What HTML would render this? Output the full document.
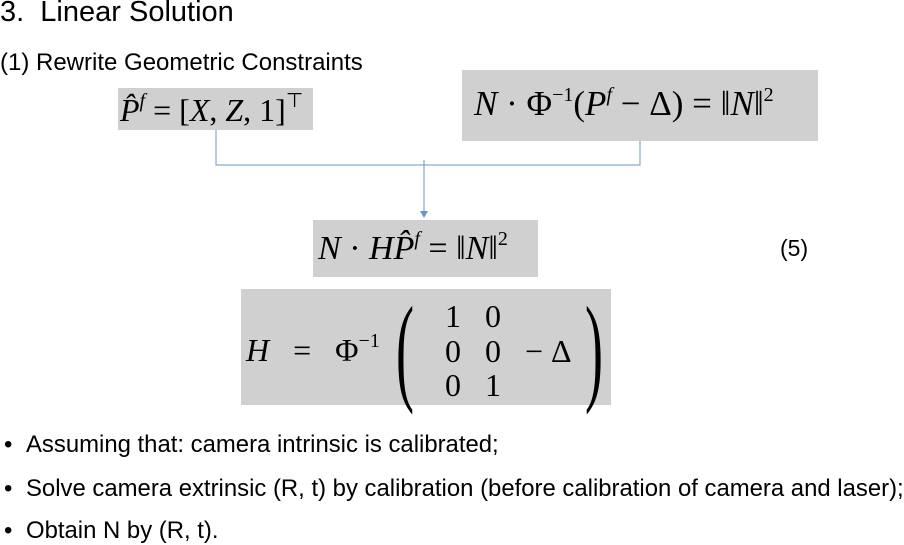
<!DOCTYPE html>
<html><head><meta charset="utf-8"><style>
body{margin:0;width:904px;height:545px;background:#fff;position:relative;overflow:hidden;font-family:"Liberation Sans",sans-serif;color:#000}
.a{position:absolute;white-space:nowrap}
.box{position:absolute;background:#d0d0d0}
.m{font-family:"Liberation Serif",serif;font-size:32px}
i{font-style:italic}
sup{font-size:20px;vertical-align:14px}
.t{font-size:23.9px}
</style></head><body>
<div class="a" style="left:0;top:-4px;font-size:29px">3.&nbsp;&nbsp;Linear Solution</div>
<div class="a" style="left:0;top:49px;font-size:24px">(1) Rewrite Geometric Constraints</div>

<div class="box" style="left:118px;top:88px;width:195px;height:42px"></div>
<div class="a m" style="left:120px;top:88px"><i>P̂</i><sup><i>f</i></sup> = [<i>X</i>, <i>Z</i>, 1]<sup>⊤</sup></div>

<div class="box" style="left:462px;top:70px;width:356px;height:71px"></div>
<div class="a m" style="left:474px;top:84px;font-size:35px"><i>N</i> · Φ<sup>−1</sup>(<i>P</i><sup><i>f</i></sup> − Δ) = ‖<i>N</i>‖<sup>2</sup></div>

<svg class="a" style="left:0;top:0" width="904" height="545">
<path d="M216 130V165H640V141M424 160V212" stroke="#6a95c8" stroke-width="1" fill="none"/>
<path d="M420 211L428 211L424 218Z" fill="#6a95c8"/>
</svg>

<div class="box" style="left:313px;top:220px;width:225px;height:57px"></div>
<div class="a m" style="left:318px;top:228px;font-size:34px"><i>N</i> · <i>H</i><i>P̂</i><sup><i>f</i></sup> = ‖<i>N</i>‖<sup>2</sup></div>
<div class="a" style="left:780px;top:235px;font-size:23px">(5)</div>

<div class="box" style="left:241px;top:289px;width:370px;height:116px"></div>
<div class="a m" style="left:246px;top:330px"><i>H</i>&nbsp;&nbsp;&nbsp;=&nbsp;&nbsp;&nbsp;Φ<sup>−1</sup></div>
<div class="a m" style="left:396px;top:280px;font-size:120px;transform:scaleX(0.45);transform-origin:left">(</div>
<div class="a m" style="left:585px;top:280px;font-size:120px;transform:scaleX(0.45);transform-origin:left">)</div>
<div class="a m" style="left:445px;top:298px">1&nbsp;&nbsp;&nbsp;0</div>
<div class="a m" style="left:445px;top:333px">0&nbsp;&nbsp;&nbsp;0&nbsp;&nbsp;&nbsp;−&nbsp;Δ</div>
<div class="a m" style="left:445px;top:367px">0&nbsp;&nbsp;&nbsp;1</div>

<div class="a t" style="left:4px;top:431px">•</div><div class="a t" style="left:26px;top:431px">Assuming that: camera intrinsic is calibrated;</div>
<div class="a t" style="left:4px;top:475px">•</div><div class="a t" style="left:26px;top:475px">Solve camera extrinsic (R, t) by calibration (before calibration of camera and laser);</div>
<div class="a t" style="left:4px;top:517px">•</div><div class="a t" style="left:26px;top:517px">Obtain N by (R, t).</div>
</body></html>
